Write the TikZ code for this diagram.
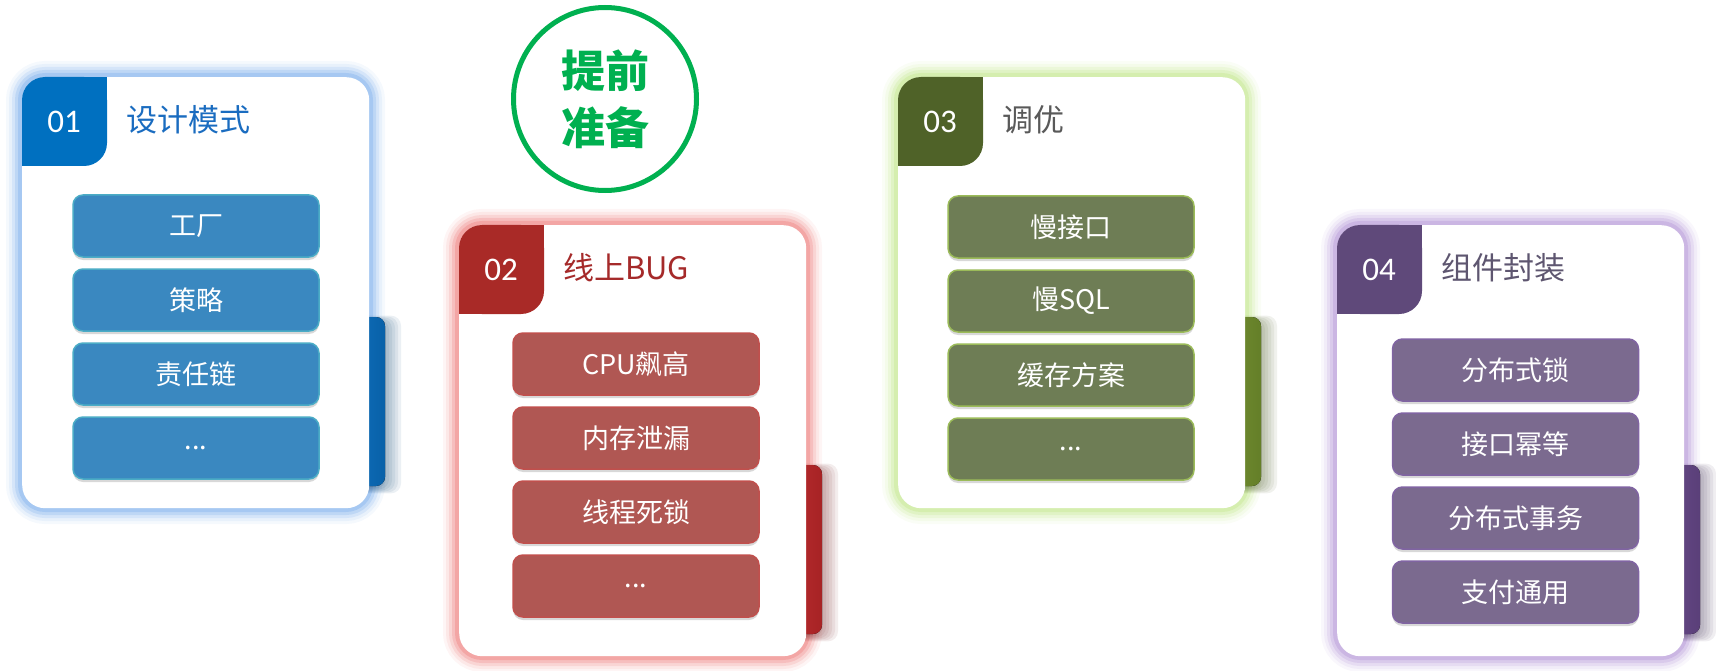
\documentclass[tikz,border=0pt]{standalone}
\usepackage{fontspec}
\setmainfont{Noto Sans CJK SC}
\newfontfamily\numfont{Carlito}
\usetikzlibrary{shadows}

\definecolor{c1glow}{HTML}{9CC2F0}
\definecolor{c1dark}{HTML}{0070C0}
\definecolor{c1title}{HTML}{1A6CC0}
\definecolor{c1item}{HTML}{3A88C0}
\definecolor{c1line}{HTML}{4BACC6}
\definecolor{c1tab}{HTML}{0A72C6}

\definecolor{c2glow}{HTML}{F29C9B}
\definecolor{c2dark}{HTML}{A92A27}
\definecolor{c2title}{HTML}{A52A2A}
\definecolor{c2item}{HTML}{B05753}
\definecolor{c2line}{HTML}{C0504D}
\definecolor{c2tab}{HTML}{C4292B}

\definecolor{c3glow}{HTML}{D0ECA6}
\definecolor{c3dark}{HTML}{4F6228}
\definecolor{c3title}{HTML}{595959}
\definecolor{c3item}{HTML}{6E7D55}
\definecolor{c3line}{HTML}{9BBB59}
\definecolor{c3tab}{HTML}{76952F}

\definecolor{c4glow}{HTML}{C5AEE0}
\definecolor{c4dark}{HTML}{5F497A}
\definecolor{c4title}{HTML}{5E5670}
\definecolor{c4item}{HTML}{7B6A8F}
\definecolor{c4line}{HTML}{8064A2}
\definecolor{c4tab}{HTML}{6A4A8E}

\definecolor{prepgreen}{HTML}{00B050}

\newcommand\tdots{...}

\tikzset{
  itembox/.style={rounded corners=10pt, minimum width=246pt, minimum height=62pt,
    line width=1.5pt, text=white, inner sep=0pt,
    font=\fontsize{27}{30}\selectfont,
    drop shadow={shadow xshift=0pt, shadow yshift=-3pt, opacity=0.3}},
  cardbg/.style={fill=white, rounded corners=23pt, minimum width=347pt,
    minimum height=431pt, anchor=north west, inner sep=0pt},
  numtext/.style={text=white, inner sep=0pt, font=\numfont\fontsize{33}{36}\selectfont},
  titletext/.style={anchor=west, inner sep=0pt, font=\fontsize{31}{34}\selectfont}
}

% #1 id, #2 left, #3 top, #4 first item offset, #5 number, #6 title, #7 items, #8 item x offset
\newcommand\makecard[8]{%
  \foreach \w/\o in {32/0.1,26/0.15,20/0.25,14/0.4,8/0.7}
    \draw[#1glow, line width=\w pt, opacity=\o, rounded corners=23pt]
      (#2,#3) rectangle ({#2+347},{#3+431});
  \foreach \e in {16,13,10,7,4,1}
    \fill[#1tab!55!black, opacity=0.08, rounded corners=10pt]
      ({#2+330},{#3+244-\e/3}) rectangle ({#2+363+\e},{#3+411+\e/3});
  \fill[left color=#1tab!95!white, right color=#1tab!85!black, rounded corners=9pt]
    ({#2+300},{#3+240}) rectangle ({#2+363},{#3+409});
  \node[cardbg] (#1-card) at (#2,#3) {};
  \fill[#1dark, rounded corners=23pt] (#2,#3) rectangle ({#2+85},{#3+89});
  \fill[#1dark] ({#2+55},#3) rectangle ({#2+85},{#3+30});
  \fill[#1dark] (#2,{#3+59}) rectangle ({#2+30},{#3+89});
  \node[numtext] (#1-num) at ({#2+42},{#3+45}) {#5};
  \node[titletext, text=#1title] (#1-title) at ({#2+104},{#3+43}) {#6};
  \foreach \t [count=\i] in {#7}
    \node[itembox, fill=#1item, draw=#1line] (#1-i\i)
      at ({#2+173.5+#8},{#3+#4+31+74*(\i-1)}) {\t};
}

\begin{document}
\begin{tikzpicture}[x=1pt,y=-1pt]
\useasboundingbox (0,0) rectangle (1716,671);

\makecard{c1}{22}{77}{118}{01}{设计模式}{工厂,策略,责任链,\tdots}{0.5}
\makecard{c2}{459}{225}{108}{02}{线上BUG}{CPU飙高,内存泄漏,线程死锁,\tdots}{3.5}
\makecard{c3}{898}{77}{119}{03}{调优}{慢接口,慢SQL,缓存方案,\tdots}{-0.5}
\makecard{c4}{1337}{225}{114}{04}{组件封装}{分布式锁,接口幂等,分布式事务,支付通用}{5}

\node[circle, draw=prepgreen, line width=5pt, minimum size=183pt, inner sep=0pt,
  text=prepgreen, align=center, font=\bfseries\fontsize{44}{57}\selectfont]
  (prep) at (605,99) {提前\\准备};
\end{tikzpicture}
\end{document}
